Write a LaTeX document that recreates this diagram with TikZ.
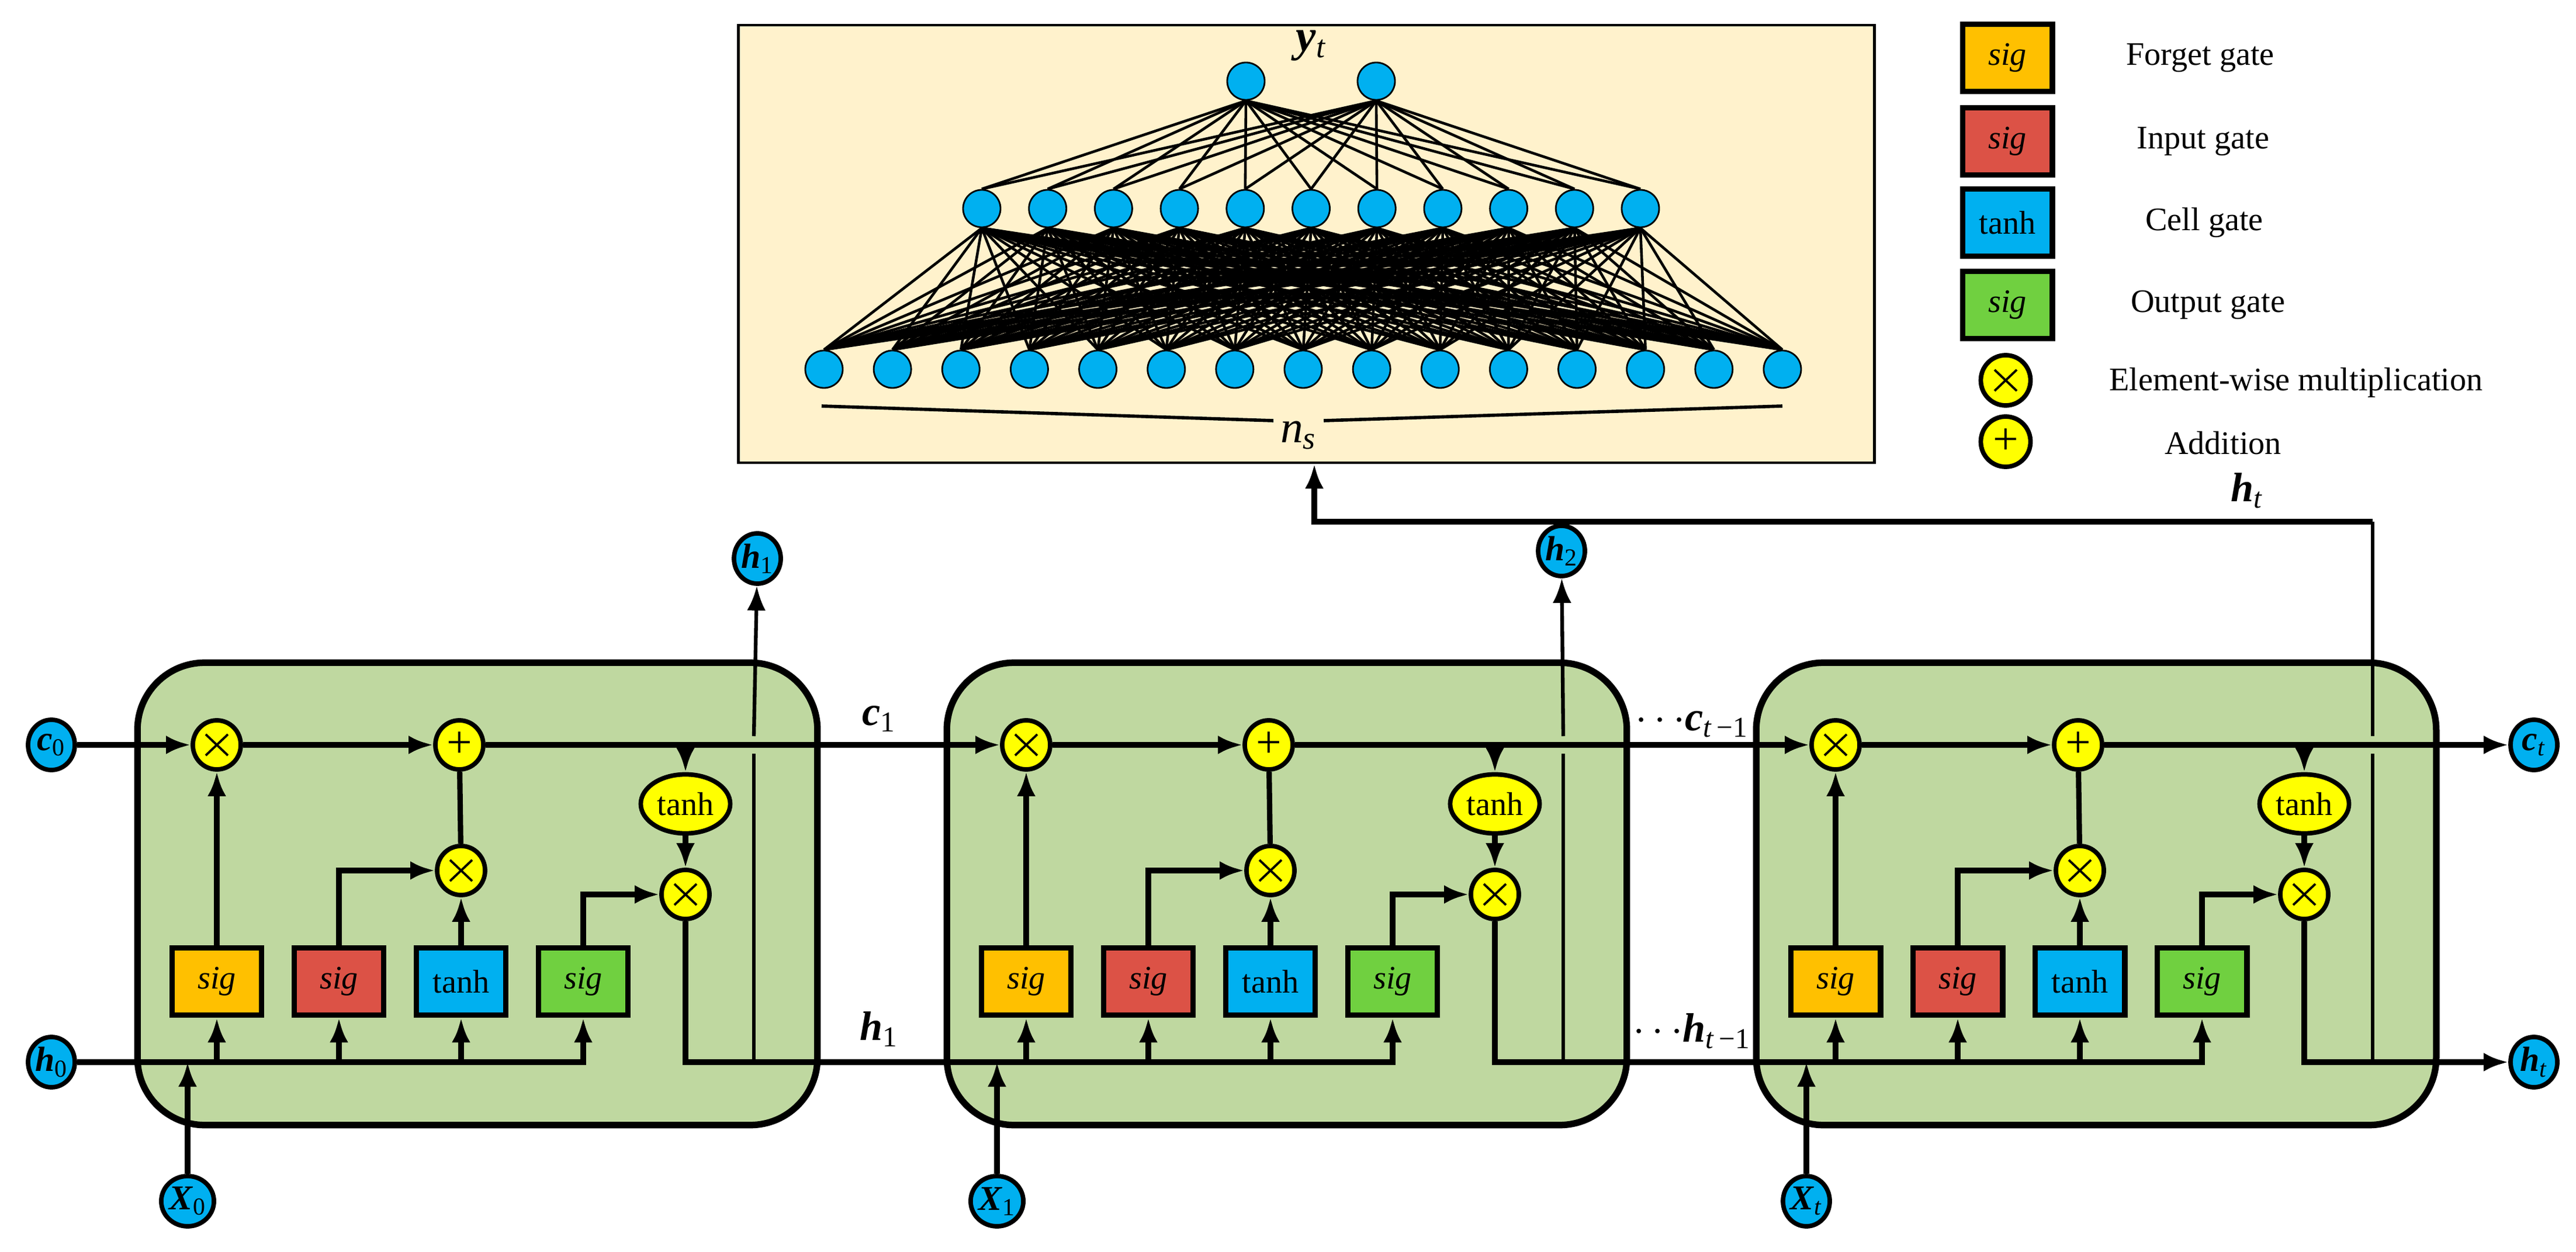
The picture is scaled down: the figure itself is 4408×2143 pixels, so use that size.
\documentclass[tikz,border=0pt]{standalone}
\usepackage{fontspec}
\setmainfont{Liberation Serif}
\usetikzlibrary{shapes.geometric, arrows.meta, positioning, calc}
\definecolor{cell-green}{RGB}{191,216,160}
\definecolor{net-cream}{RGB}{255,242,204}
\definecolor{gate-orange}{RGB}{255,192,0}
\definecolor{gate-red}{RGB}{220,82,70}
\definecolor{gate-blue}{RGB}{0,176,240}
\definecolor{gate-green}{RGB}{112,208,64}
\definecolor{op-yellow}{RGB}{255,255,0}
\newcommand{\vsub}[2]{\textbf{\textit{#1}}\textsubscript{#2}}

\begin{document}
\begin{tikzpicture}[
    x=0.01cm, y=-0.01cm,
    font=\fontsize{16}{19}\selectfont,
    cell/.style={rectangle, draw, line width=3.2pt, fill=cell-green, rounded corners=1.15cm, minimum width=11.63cm, minimum height=7.91cm},
    gate/.style={rectangle, draw, line width=2.8pt, minimum width=1.53cm, minimum height=1.15cm, inner sep=0pt},
    op/.style={ellipse, draw, line width=2.2pt, fill=op-yellow, minimum width=0.82cm, minimum height=0.84cm, inner sep=0pt},
    mult/.style={op, path picture={
        \draw[line width=1.1pt] ([shift={(-19,-18)}]path picture bounding box.center) -- ([shift={(19,18)}]path picture bounding box.center);
        \draw[line width=1.1pt] ([shift={(-19,18)}]path picture bounding box.center) -- ([shift={(19,-18)}]path picture bounding box.center);}},
    plus/.style={op, font=\fontsize{22}{22}\selectfont},
    squash/.style={ellipse, draw, line width=2.2pt, fill=op-yellow, minimum width=1.53cm, minimum height=1.01cm, inner sep=0pt},
    state/.style={ellipse, draw, line width=2.2pt, fill=gate-blue, minimum width=0.8cm, minimum height=0.86cm, inner sep=0pt, font=\fontsize{17}{17}\selectfont},
    neuron/.style={circle, draw, line width=0.8pt, fill=gate-blue, minimum size=0.64cm, inner sep=0pt},
    arrow/.style={-{Latex[length=0.42cm,width=0.32cm]}, line width=2.6pt},
    link/.style={line width=2.6pt},
    wire/.style={line width=1.3pt}
]
\useasboundingbox (0,0) rectangle (4408,2143);

% output network
\node[rectangle, draw, line width=1.2pt, fill=net-cream, minimum width=19.43cm, minimum height=7.49cm] (net) at (2235.5,417.5) {};
\foreach \i/\px in {1/2132,2/2355}
  \node[neuron] (out\i) at (\px,139) {};
\foreach \i in {1,...,11}
  \node[neuron] (hid\i) at ({1680+112.7*(\i-1)},357) {};
\foreach \i in {1,...,15}
  \node[neuron] (inp\i) at ({1410+117.14*(\i-1)},632) {};
\foreach \i in {1,2}
  \foreach \j in {1,...,11}
    \draw[wire] (out\i.south) -- (hid\j.north);
\foreach \j in {1,...,11}
  \foreach \k in {1,...,15}
    \draw[wire] (hid\j.south) -- (inp\k.north);
\node[font=\fontsize{22}{22}\selectfont] (yt) at (2244,78) {\vsub{y}{\textit{t}}};
\node[font=\fontsize{22}{22}\selectfont] (ns) at (2222,745) {\textit{n}\textsubscript{\textit{s}}};
\draw[line width=1.6pt] (1406,695) -- (ns.west |- 0,720);
\draw[line width=1.6pt] (ns.east |- 0,720) -- (3050,695);

% legend
\node[gate, fill=gate-orange] (lf) at (3435,99) {\textit{sig}};
\node[gate, fill=gate-red] (li) at (3435,242) {\textit{sig}};
\node[gate, fill=gate-blue] (lc) at (3435,381) {tanh};
\node[gate, fill=gate-green] (lo) at (3435,522) {\textit{sig}};
\node[mult, minimum width=0.85cm, minimum height=0.86cm] (lm) at (3432,651) {};
\node[plus, minimum width=0.85cm, minimum height=0.86cm] (la) at (3432,756) {+};
\node at (3765,99) {Forget gate};
\node at (3770,242) {Input gate};
\node at (3772,381) {Cell gate};
\node at (3778,522) {Output gate};
\node at (3929,655) {Element-wise multiplication};
\node at (3804,758) {Addition};

% lstm cells
\foreach \k/\dx in {0/0,1/1385,2/2770} {
  \node[cell] (cell\k) at ({817+\dx},1530) {};
  \node[mult] (fm\k) at ({371+\dx},1275) {};
  \node[plus] (ad\k) at ({786+\dx},1275) {+};
  \node[mult] (im\k) at ({789+\dx},1490) {};
  \node[squash] (th\k) at ({1173+\dx},1376) {tanh};
  \node[mult] (om\k) at ({1173+\dx},1531) {};
  \node[gate, fill=gate-orange] (gf\k) at ({371+\dx},1680) {\textit{sig}};
  \node[gate, fill=gate-red] (gi\k) at ({580+\dx},1680) {\textit{sig}};
  \node[gate, fill=gate-blue] (gc\k) at ({789+\dx},1680) {tanh};
  \node[gate, fill=gate-green] (go\k) at ({998+\dx},1680) {\textit{sig}};
  \coordinate (hb\k) at ({998+\dx},1818);
  \coordinate (ct\k) at ({1173+\dx},1275);
  \coordinate (hv\k) at ({1290+\dx},1818);
  \coordinate (hg\k) at ({1290+\dx},1290);
  \coordinate (ha\k) at ({1290+\dx},1260);
  \draw[arrow] (fm\k) -- (ad\k);
  \draw[arrow] (gf\k) -- (fm\k);
  \draw[arrow] (gi\k) |- (im\k);
  \draw[arrow] (gc\k) -- (im\k);
  \draw[link] (im\k) -- (ad\k);
  \draw[arrow] (go\k) |- (om\k);
  \draw[arrow] (ct\k) -- (th\k);
  \draw[arrow] (th\k) -- (om\k);
  \foreach \g in {gf,gi,gc}
    \draw[arrow] (\g\k |- hb\k) -- (\g\k);
  \draw[line width=1.8pt] (hv\k) -- (hg\k);
}
\node[state] (c0) at (88,1275) {\vsub{c}{0}};
\node[state] (h0) at (88,1818) {\vsub{h}{0}};
\node[state] (ct) at (4336,1275) {\vsub{c}{\textit{t}}};
\node[state] (ht) at (4336,1818) {\vsub{h}{\textit{t}}};
\node[state] (hn0) at (1296,956) {\vsub{h}{1}};
\node[state] (hn1) at (2672,943) {\vsub{h}{2}};
\node[state] (x0) at (321,2056) {\vsub{X}{0}};
\node[state] (x1) at (1706,2056) {\vsub{X}{1}};
\node[state] (x2) at (3091,2056) {\vsub{X}{\textit{t}}};

% state flow between cells
\draw[arrow] (c0) -- (fm0);
\draw[arrow] (ad0) -- (fm1);
\draw[arrow] (ad1) -- (fm2);
\draw[arrow] (ad2) -- (ct);
\draw[arrow] (h0) -- (hb0) -- (go0);
\draw[arrow] (om0) |- (hb1) -- (go1);
\draw[arrow] (om1) |- (hb2) -- (go2);
\draw[arrow] (om2) |- (ht);
\foreach \k in {0,1,2}
  \draw[arrow] (x\k) -- (x\k |- hb\k);
\draw[arrow, line width=1.8pt] (ha0) -- (hn0);
\draw[arrow, line width=1.8pt] (ha1) -- (hn1);
\coordinate (hturn) at (2249,893);
\draw[line width=1.8pt] (ha2) -- (ha2 |- hturn);
\draw[arrow] (ha2 |- hturn) -- (hturn) -- (hturn |- net.south);

% labels
\node[font=\fontsize{20}{20}\selectfont] (lc1) at (1504,1230) {\vsub{c}{1}};
\node[font=\fontsize{20}{20}\selectfont] (lh1) at (1504,1762) {\vsub{h}{1}};
\node[font=\fontsize{20}{20}\selectfont] (lcl) at (2895,1240) {$\cdots$\vsub{c}{\textit{t}\,−1}};
\node[font=\fontsize{20}{20}\selectfont] (lhl) at (2895,1765) {$\cdots$\vsub{h}{\textit{t}\,−1}};
\node[font=\fontsize{20}{20}\selectfont] (lht) at (3845,840) {\vsub{h}{\textit{t}}};
\end{tikzpicture}
\end{document}
